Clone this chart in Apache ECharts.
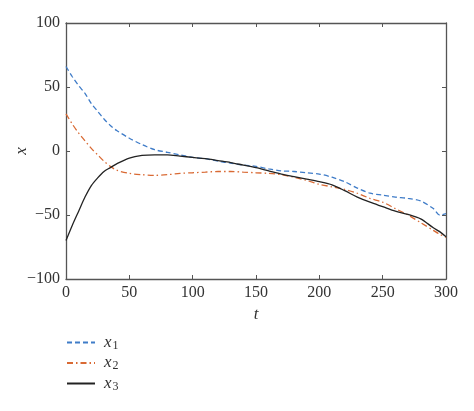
<!DOCTYPE html>
<html>
<head>
<meta charset="utf-8">
<script src="https://cdn.jsdelivr.net/npm/echarts@6/dist/echarts.min.js"></script>
<style>html,body{margin:0;padding:0;background:#fff}#c{width:474px;height:411px}</style>
</head>
<body>
<div id="c"></div>
<script>
const t  = [0,5,10,15,20,25,30,35,40,50,60,70,80,90,100,110,120,130,140,150,160,170,180,190,200,210,220,230,240,250,260,270,280,290,295,300];
const x1 = [66,58,51,45,37,31,25,20,16,10,5,1,-1,-3,-5,-6,-8,-9.5,-11,-12,-14,-15.5,-16,-17,-18,-20.5,-24,-29,-33,-34.5,-36,-37,-39,-45,-50,-49];
const x2 = [29,21,14,8,2,-3,-8,-12,-15,-17.5,-18.5,-19,-18.5,-17.5,-17,-16.5,-16,-16,-16.5,-17,-17.5,-18.5,-20.5,-23,-26,-28,-30,-33,-37,-40,-45,-50,-56,-62,-65,-67.5];
const x3 = [-70,-58,-47,-36,-27,-21,-16,-13,-10,-5.5,-3.5,-3,-3,-4,-5,-6,-7.5,-9,-11,-13,-15.5,-18,-20,-22,-24,-26.5,-31,-36,-40,-43.5,-47,-49.5,-53,-60,-63,-67];
const names = ['x1','x2','x3'];

const zip = (a,b)=>a.map((v,i)=>[v,b[i]]);
const font = '"Liberation Serif","DejaVu Serif",serif';
const axCol = '#555';
const minus = v => String(v).replace('-', '\u2212');
const chart = echarts.init(document.getElementById('c'), null, {renderer:'canvas'});
const baseX = {type:'value',min:0,max:300,interval:50,
  axisLine:{show:true,onZero:false,lineStyle:{color:axCol,width:1.3}},
  axisTick:{show:true,inside:true,length:4,lineStyle:{color:axCol}},
  splitLine:{show:false}};
const baseY = {type:'value',min:-100,max:100,interval:50,
  axisLine:{show:true,onZero:false,lineStyle:{color:axCol,width:1.3}},
  axisTick:{show:true,inside:true,length:4,lineStyle:{color:axCol}},
  splitLine:{show:false}};
chart.setOption({
  animation:false,
  backgroundColor:'#fff',
  grid:{left:66,right:28,top:23,bottom:132,containLabel:false,outerBoundsMode:'none'},
  legend:{
    orient:'vertical',left:66,top:334,padding:0,itemWidth:28,itemHeight:12,itemGap:3,
    data:names,
    itemStyle:{opacity:0},
    formatter:n=>'{i|x}{s|'+n.slice(1)+'}',
    textStyle:{fontFamily:font,color:'#333',fontSize:15,padding:[0,0,0,4],
      rich:{i:{fontFamily:font,fontStyle:'italic',fontSize:17,color:'#333',height:16},
            s:{fontFamily:font,fontSize:12,color:'#333',verticalAlign:'bottom',padding:[6,0,0,1],height:12}}}
  },
  xAxis:[Object.assign({},baseX,{position:'bottom',
      name:'t',nameLocation:'middle',nameGap:26,
      nameTextStyle:{fontFamily:font,fontStyle:'italic',fontSize:17,color:'#333'},
      axisLabel:{fontFamily:font,fontSize:16,color:'#333',margin:6,formatter:minus}}),
    Object.assign({},baseX,{position:'top',axisLabel:{show:false}})],
  yAxis:[Object.assign({},baseY,{position:'left',
      name:'x',nameLocation:'middle',nameGap:36,nameRotate:90,nameMoveOverlap:false,
      nameTextStyle:{fontFamily:font,fontStyle:'italic',fontSize:17,color:'#333'},
      axisLabel:{fontFamily:font,fontSize:16,color:'#333',margin:6,formatter:minus}}),
    Object.assign({},baseY,{position:'right',axisLabel:{show:false}})],
  series:[
    {name:'x1',type:'line',data:zip(t,x1),symbol:'none',smooth:0.3,
     itemStyle:{color:'#3f7cc8'},lineStyle:{color:'#3f7cc8',width:1.3,type:[5,3]}},
    {name:'x2',type:'line',data:zip(t,x2),symbol:'none',smooth:0.3,
     itemStyle:{color:'#d96a34'},lineStyle:{color:'#d96a34',width:1.3,type:[6,3,1.5,3]}},
    {name:'x3',type:'line',data:zip(t,x3),symbol:'none',smooth:0.3,
     itemStyle:{color:'#222'},lineStyle:{color:'#222',width:1.3}}
  ]
});
</script>
</body>
</html>
